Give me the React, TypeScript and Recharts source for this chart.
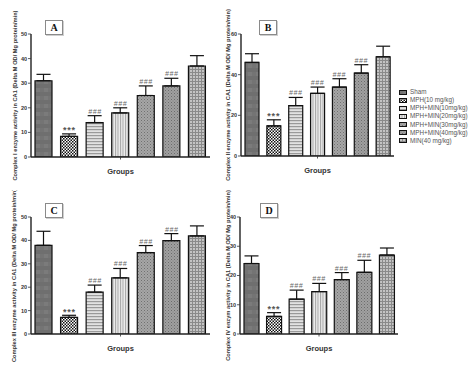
import React from 'react';
import { ComposedChart, Bar, Cell, XAxis, YAxis, ErrorBar, Line, LabelList } from 'recharts';

const groups = ['Sham', 'MPH(10 mg/kg)', 'MPH+MIN(10mg/kg)', 'MPH+MIN(20mg/kg)', 'MPH+MIN(30mg/kg)', 'MPH+MIN(40mg/kg)', 'MIN(40 mg/kg)'];
const signif = ['', '***', '###', '###', '###', '###', ''];

const complexIValues = [31, 8.4, 14, 17.9, 25, 28.9, 37];
const complexIErrors = [2.6, 1.0, 2.8, 2.1, 3.9, 3.1, 4.2];

const complexIIValues = [46, 14.8, 24.8, 30.8, 33.9, 40.8, 48.8];
const complexIIErrors = [4.3, 3.0, 4.0, 3.1, 4.1, 4.1, 5.2];

const complexIIIValues = [37.9, 7.1, 17.9, 24, 34.8, 39.9, 41.9];
const complexIIIErrors = [6.0, 0.9, 3.0, 4.0, 3.0, 3.0, 4.3];

const complexIVValues = [24.1, 6, 11.9, 14.5, 18.6, 21.1, 27];
const complexIVErrors = [2.6, 1.3, 3.1, 2.8, 2.4, 4.1, 2.4];

const ticksA = [0, 10, 20, 30, 40, 50];
const ticksB = [0, 20, 40, 60];
const ticksC = [0, 10, 20, 30, 40, 50];
const ticksD = [0, 10, 20, 30, 40];

const patternIds = ['pSham', 'pMPH', 'pM10', 'pM20', 'pM30', 'pM40', 'pMIN'];

const FONT = '"Liberation Sans", Arial, sans-serif';

function build(values: number[], errors: number[]) {
  return groups.map((g, i) => ({
    name: g,
    value: values[i],
    err: [0, errors[i]],
    top: values[i] + errors[i],
    sig: signif[i],
  }));
}

function Patterns() {
  return (
    <svg width={0} height={0} style={{ position: 'absolute' }}>
      <defs>
        <pattern id="pSham" width="8" height="8" patternUnits="userSpaceOnUse">
          <rect width="8" height="8" fill="#6f6f6f" />
          <rect width="8" height="4" fill="#7b7b7b" />
          <rect x="0" y="0" width="4" height="4" fill="#747474" />
        </pattern>
        <pattern id="pMPH" width="3" height="3" patternUnits="userSpaceOnUse">
          <rect width="3" height="3" fill="#ffffff" />
          <rect x="0" y="0" width="1.5" height="1.5" fill="#111" />
          <rect x="1.5" y="1.5" width="1.5" height="1.5" fill="#111" />
        </pattern>
        <pattern id="pM10" width="4" height="3" patternUnits="userSpaceOnUse">
          <rect width="4" height="3" fill="#e2e2e2" />
          <rect y="0" width="4" height="1.2" fill="#9a9a9a" />
        </pattern>
        <pattern id="pM20" width="2.5" height="4" patternUnits="userSpaceOnUse">
          <rect width="2.5" height="4" fill="#ececec" />
          <rect x="0" width="1" height="4" fill="#a5a5a5" />
        </pattern>
        <pattern id="pM30" width="3" height="3" patternUnits="userSpaceOnUse">
          <rect width="3" height="3" fill="#a6a6a6" />
          <rect x="0" y="0" width="1" height="1" fill="#707070" />
          <rect x="1.5" y="1.5" width="1" height="1" fill="#808080" />
        </pattern>
        <pattern id="pM40" width="3" height="3" patternUnits="userSpaceOnUse">
          <rect width="3" height="3" fill="#a0a0a0" />
          <rect x="0" y="0" width="1" height="1" fill="#6c6c6c" />
          <rect x="1.5" y="1.5" width="1" height="1" fill="#7c7c7c" />
        </pattern>
        <pattern id="pMIN" width="3" height="3" patternUnits="userSpaceOnUse">
          <rect width="3" height="3" fill="#c4c4c4" />
          <rect x="0" width="1" height="3" fill="#8a8a8a" />
          <rect y="0" width="3" height="1" fill="#8a8a8a" />
        </pattern>
      </defs>
    </svg>
  );
}

type PanelProps = {
  left: number;
  top: number;
  width: number;
  yWidth: number;
  margin: { top: number; right: number; left: number; bottom: number };
  values: number[];
  errors: number[];
  ticks: number[];
  yLabel: string;
  yLabelX: number;
  barSize: number;
};

function SigLabel(lp: any) {
  const { x, y, value } = lp;
  if (!value) return <g />;
  const isStar = value === '***';
  return (
    <text
      x={x}
      y={isStar ? y - 0.5 : y - 2}
      textAnchor="middle"
      fontFamily={FONT}
      fontSize={isStar ? 9 : 7}
      fontWeight={isStar ? 'bold' : 'normal'}
      fontStyle={isStar ? 'normal' : 'italic'}
      letterSpacing={isStar ? 0.8 : 0.6}
      fill={isStar ? '#555' : '#666'}
    >
      {value}
    </text>
  );
}

function Panel(p: PanelProps) {
  const data = build(p.values, p.errors);
  const max = p.ticks[p.ticks.length - 1];
  return (
    <div style={{ position: 'absolute', left: p.left, top: p.top }}>
      <ComposedChart width={p.width} height={190} data={data} margin={p.margin}>
        <XAxis
          dataKey="name"
          height={20}
          axisLine={{ stroke: '#222', strokeWidth: 1.4 }}
          tickLine={false}
          tickSize={0}
          tickMargin={0}
          interval={0}
          tick={(t: any) =>
            t.index === 3 ? (
              <line x1={t.x} x2={t.x} y1={t.y} y2={t.y + 2.5} stroke="#333" strokeWidth={0.8} />
            ) : (
              <g />
            )
          }
          label={{
            content: (lp: any) => {
              const vb = lp.viewBox || {};
              return (
                <text
                  x={vb.x + vb.width / 2}
                  y={vb.y + 17}
                  textAnchor="middle"
                  fontFamily={FONT}
                  fontSize={7.5}
                  fontWeight="bold"
                  fill="#333"
                >
                  Groups
                </text>
              );
            },
          }}
        />
        <YAxis
          width={p.yWidth}
          domain={[0, max]}
          ticks={p.ticks}
          interval={0}
          allowDataOverflow
          axisLine={{ stroke: '#222', strokeWidth: 1.4 }}
          tickLine={{ stroke: '#333', strokeWidth: 0.8 }}
          tickSize={3}
          tickMargin={1}
          tick={{ fontSize: 5.5, fontFamily: FONT, fontWeight: 'bold', fill: '#333' }}
          label={{
            content: (lp: any) => {
              const vb = lp.viewBox || {};
              const cx = p.yLabelX;
              const cy = vb.y + vb.height / 2;
              return (
                <text
                  x={cx}
                  y={cy}
                  transform={`rotate(-90 ${cx} ${cy})`}
                  textAnchor="middle"
                  dominantBaseline="central"
                  fontFamily={FONT}
                  fontSize={5.7}
                  fontWeight="bold"
                  fill="#333"
                >
                  {p.yLabel}
                </text>
              );
            },
          }}
        />
        <Bar dataKey="value" barSize={p.barSize} stroke="#111" strokeWidth={1.2} isAnimationActive={false}>
          {data.map((d, i) => (
            <Cell key={d.name} fill={`url(#${patternIds[i]})`} />
          ))}
          <ErrorBar dataKey="err" width={7} stroke="#111" strokeWidth={1.2} direction="y" />
        </Bar>
        <Line dataKey="top" stroke="none" dot={false} activeDot={false} isAnimationActive={false} legendType="none">
          <LabelList dataKey="sig" content={SigLabel} />
        </Line>
      </ComposedChart>
    </div>
  );
}

function PanelTag({ letter, x, y }: { letter: string; x: number; y: number }) {
  return (
    <div
      style={{
        position: 'absolute',
        left: x,
        top: y,
        width: 16,
        height: 13,
        border: '1px solid #8a8a8a',
        background: '#fff',
        boxShadow: '1px 1px 0 #cfcfcf',
        fontFamily: '"Liberation Serif", "Times New Roman", serif',
        fontWeight: 'bold',
        fontSize: 10,
        lineHeight: '13px',
        textAlign: 'center',
        color: '#111',
      }}
    >
      {letter}
    </div>
  );
}

function Legend() {
  return (
    <div style={{ position: 'absolute', left: 399, top: 88 }}>
      {groups.map((g, i) => (
        <div key={g} style={{ display: 'flex', alignItems: 'center', height: 8.15 }}>
          <svg width={8} height={5} style={{ marginRight: 3 }}>
            <rect x={0.5} y={0.5} width={7} height={4} fill={`url(#${patternIds[i]})`} stroke="#111" strokeWidth={1} />
          </svg>
          <span style={{ fontFamily: FONT, fontSize: 6.3, color: '#555', whiteSpace: 'nowrap', lineHeight: '8px' }}>{g}</span>
        </div>
      ))}
    </div>
  );
}

export default function App() {
  return (
    <div style={{ position: 'absolute', left: 0, top: 0, width: 474, height: 384, background: '#fff', overflow: 'hidden' }}>
      <Patterns />
      <Panel
        left={0}
        top={0}
        width={220}
        yWidth={31}
        margin={{ top: 34, right: 10, left: 0, bottom: 13 }}
        values={complexIValues}
        errors={complexIErrors}
        ticks={ticksA}
        yLabel="Complex I enzyme activity in CA1 (Delta M OD/ Mg protein/min)"
        yLabelX={15}
        barSize={17}
      />
      <Panel
        left={220}
        top={0}
        width={180}
        yWidth={21}
        margin={{ top: 34, right: 6, left: 0, bottom: 14 }}
        values={complexIIValues}
        errors={complexIIErrors}
        ticks={ticksB}
        yLabel="Complex II enzyme activity in CA1 (Delta M OD/ Mg protein/min)"
        yLabelX={8}
        barSize={14}
      />
      <Panel
        left={0}
        top={190}
        width={220}
        yWidth={31}
        margin={{ top: 27, right: 10, left: 0, bottom: 26 }}
        values={complexIIIValues}
        errors={complexIIIErrors}
        ticks={ticksC}
        yLabel="Complex III enzyme activity in CA1 (Delta M OD/ Mg protein/min)"
        yLabelX={14}
        barSize={17}
      />
      <Panel
        left={220}
        top={190}
        width={180}
        yWidth={20}
        margin={{ top: 27, right: 2, left: 0, bottom: 26 }}
        values={complexIVValues}
        errors={complexIVErrors}
        ticks={ticksD}
        yLabel="Complex IV enzym activity in CA1 (Delta M OD/ Mg protein/min)"
        yLabelX={8}
        barSize={15}
      />
      <PanelTag letter="A" x={45} y={20} />
      <PanelTag letter="B" x={259} y={20} />
      <PanelTag letter="C" x={45} y={203} />
      <PanelTag letter="D" x={260} y={203} />
      <Legend />
    </div>
  );
}
